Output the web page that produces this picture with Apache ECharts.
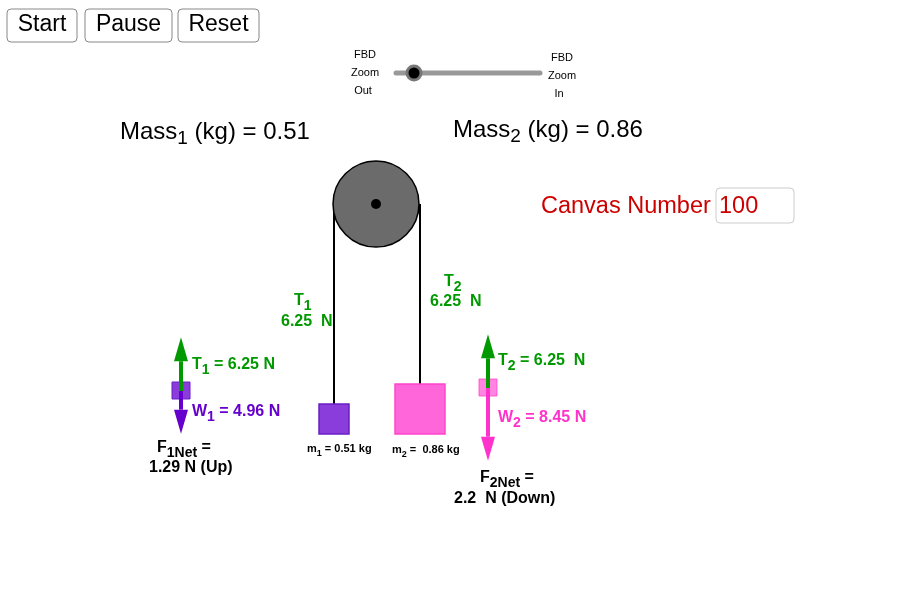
<!DOCTYPE html>
<html><head><meta charset="utf-8">
<script src="https://cdn.jsdelivr.net/npm/echarts@6/dist/echarts.min.js"></script>
<style>html,body{margin:0;background:#fff}#c{width:900px;height:600px}</style>
</head><body><div id="c"></div>
<script>
// values
var masses = [0.51, 0.86];
var tensions = [6.25, 6.25];
var weights = [4.96, 8.45];
var netForces = [1.29, 2.2];
var netDirs = ['Up', 'Down'];
var canvasNumber = 100;

var F = 'Liberation Sans, Arial, sans-serif';
var PX_PER_N = 8.6;
var blockFill = ['#8a3ddb', '#ff66d9'];
var blockEdge = ['#6a1fc4', '#ff44cc'];
var weightCol = ['#6600cc', '#ff33cc'];
var green = '#009900';

// block side from mass, hanging positions
var blocks = [
  {x: 334, bottom: 434, side: 30 + (masses[0] - 0.51) * 57},
  {x: 420, bottom: 434, side: 30 + (masses[1] - 0.51) * 57}
];
var fbd = [{x: 181, y: 391}, {x: 488, y: 388}];

var chart = echarts.init(document.getElementById('c'));

function blockItem(params, api) {
  var i = params.dataIndex, b = blocks[i];
  var tl = api.coord([b.x - b.side / 2, b.bottom - b.side]);
  var br = api.coord([b.x + b.side / 2, b.bottom]);
  var top = api.coord([b.x, 204]);
  return {type: 'group', children: [
    {type: 'line', shape: {x1: top[0], y1: top[1], x2: top[0], y2: tl[1]}, style: {stroke: '#000', lineWidth: 2}},
    {type: 'rect', shape: {x: tl[0], y: tl[1], width: br[0] - tl[0], height: br[1] - tl[1]},
     style: {fill: blockFill[i], stroke: blockEdge[i], lineWidth: 1.5}}
  ]};
}

function arrow(x, y1, y2, col) {
  var dir = y2 < y1 ? 1 : -1;
  var head = 24;
  return [
    {type: 'line', shape: {x1: x, y1: y1, x2: x, y2: y2 + dir * head}, style: {stroke: col, lineWidth: 4}},
    {type: 'polygon', shape: {points: [[x, y2], [x - 7, y2 + dir * head], [x + 7, y2 + dir * head]]}, style: {fill: col}}
  ];
}

function fbdItem(params, api) {
  var i = params.dataIndex, c = fbd[i];
  var p = api.coord([c.x, c.y]);
  var up = api.coord([c.x, c.y - tensions[i] * PX_PER_N]);
  var dn = api.coord([c.x, c.y + weights[i] * PX_PER_N]);
  var ch = [{type: 'rect', shape: {x: p[0] - 9, y: p[1] - 9, width: 18, height: 17},
    style: {fill: blockFill[i], stroke: blockEdge[i], lineWidth: 1, opacity: i ? 0.8 : 1}}];
  ch = ch.concat(arrow(p[0], p[1], up[1], green), arrow(p[0], p[1], dn[1], weightCol[i]));
  return {type: 'group', children: ch};
}

function sub(big, s, rest, col, size) {
  return {text: '{a|' + big + '}{s|' + s + '}{a|' + rest + '}', rich: {
    a: {fontFamily: F, fontSize: size, fontWeight: 'bold', fill: col},
    s: {fontFamily: F, fontSize: size - 2, fontWeight: 'bold', fill: col, padding: [10, 0, 0, 0]}}};
}
function txt(x, y, style) { return {type: 'text', x: x, y: y, style: style}; }
function button(x, w, label) {
  return {type: 'group', children: [
    {type: 'rect', shape: {x: x, y: 9, width: w, height: 33, r: 4}, style: {fill: '#fff', stroke: '#888', lineWidth: 1}},
    {type: 'text', x: x + w / 2, y: 25, style: {text: label, fontFamily: F, fontSize: 23, fill: '#000', align: 'center', verticalAlign: 'middle'}}
  ]};
}
var bigRich = {a: {fontFamily: F, fontSize: 24, fill: '#000'}, s: {fontFamily: F, fontSize: 19, fill: '#000', padding: [12, 0, 0, 0]}};

chart.setOption({
  animation: false,
  grid: {left: 0, right: 0, top: 0, bottom: 0},
  xAxis: {type: 'value', min: 0, max: 900, show: false},
  yAxis: {type: 'value', min: 0, max: 600, inverse: true, show: false},
  series: [
    {type: 'custom', renderItem: blockItem, data: masses},
    {type: 'custom', renderItem: fbdItem, data: masses},
    {type: 'scatter', data: [[376, 204]], symbolSize: 86, itemStyle: {color: '#6b6b6b', opacity: 1, borderColor: '#000', borderWidth: 1.5}, z: 5, silent: true},
    {type: 'scatter', data: [[376, 204]], symbolSize: 10, itemStyle: {color: '#000', opacity: 1}, z: 6, silent: true}
  ],
  graphic: [
    button(7, 70, 'Start'), button(85, 87, 'Pause'), button(178, 81, 'Reset'),
    {type: 'line', shape: {x1: 396, y1: 73, x2: 540, y2: 73}, style: {stroke: '#999', lineWidth: 5, lineCap: 'round'}},
    {type: 'circle', shape: {cx: 414, cy: 73, r: 7}, style: {fill: '#000', stroke: '#777', lineWidth: 3}},
    txt(365, 55, {text: 'FBD', fontFamily: F, fontSize: 11, align: 'center', verticalAlign: 'middle'}),
    txt(365, 73, {text: 'Zoom', fontFamily: F, fontSize: 11, align: 'center', verticalAlign: 'middle'}),
    txt(363, 91, {text: 'Out', fontFamily: F, fontSize: 11, align: 'center', verticalAlign: 'middle'}),
    txt(562, 58, {text: 'FBD', fontFamily: F, fontSize: 11, align: 'center', verticalAlign: 'middle'}),
    txt(562, 76, {text: 'Zoom', fontFamily: F, fontSize: 11, align: 'center', verticalAlign: 'middle'}),
    txt(559, 94, {text: 'In', fontFamily: F, fontSize: 11, align: 'center', verticalAlign: 'middle'}),
    txt(120, 117, {text: '{a|Mass}{s|1}{a| (kg) = ' + masses[0] + '}', rich: bigRich}),
    txt(453, 115, {text: '{a|Mass}{s|2}{a| (kg) = ' + masses[1] + '}', rich: bigRich}),
    txt(541, 195, {text: 'Canvas Number', fontFamily: F, fontSize: 23.5, fill: '#cc0000'}),
    {type: 'rect', shape: {x: 716, y: 188, width: 78, height: 35, r: 4}, style: {fill: '#fff', stroke: '#ccc', lineWidth: 1}},
    txt(719, 195, {text: String(canvasNumber), fontFamily: F, fontSize: 23.5, fill: '#cc0000'}),
    txt(294, 289, sub('T', '1', '', green, 16)),
    txt(281, 314, {text: tensions[0].toFixed(2) + '  N', fontFamily: F, fontSize: 16, fontWeight: 'bold', fill: green}),
    txt(444, 270, sub('T', '2', '', green, 16)),
    txt(430, 294, {text: tensions[1].toFixed(2) + '  N', fontFamily: F, fontSize: 16, fontWeight: 'bold', fill: green}),
    txt(192, 353, sub('T', '1', ' = ' + tensions[0].toFixed(2) + ' N', green, 16)),
    txt(192, 400, sub('W', '1', ' = ' + weights[0].toFixed(2) + ' N', weightCol[0], 16)),
    txt(498, 349, sub('T', '2', ' = ' + tensions[1].toFixed(2) + '  N', green, 16)),
    txt(498, 406, sub('W', '2', ' = ' + weights[1].toFixed(2) + ' N', weightCol[1], 16)),
    txt(307, 439, sub('m', '1', ' = ' + masses[0] + ' kg', '#000', 11)),
    txt(392, 440, sub('m', '2', ' =  ' + masses[1] + ' kg', '#000', 11)),
    txt(157, 436, sub('F', '1Net', ' =', '#000', 16)),
    txt(149, 460, {text: netForces[0].toFixed(2) + ' N (' + netDirs[0] + ')', fontFamily: F, fontSize: 16, fontWeight: 'bold', fill: '#000'}),
    txt(480, 466, sub('F', '2Net', ' =', '#000', 16)),
    txt(454, 491, {text: netForces[1] + '  N (' + netDirs[1] + ')', fontFamily: F, fontSize: 16, fontWeight: 'bold', fill: '#000'})
  ]
});
</script></body></html>
